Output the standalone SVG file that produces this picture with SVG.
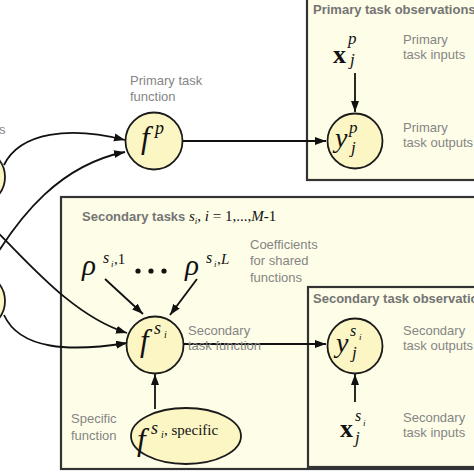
<svg xmlns="http://www.w3.org/2000/svg" width="474" height="474" viewBox="0 0 474 474">
<style>
.box{fill:#fefde8;stroke:#333;stroke-width:2.2}
.node{fill:#fbf6c4;stroke:#1a1a1a;stroke-width:1.8}
.lbl{font-family:"Liberation Sans",Arial,sans-serif;font-size:13px;fill:#858585}
.ttl{font-family:"Liberation Sans",Arial,sans-serif;font-size:13px;font-weight:bold;fill:#747474}
.m{font-family:"Liberation Serif","Times New Roman",serif;font-style:italic;fill:#111}
.mu{font-family:"Liberation Serif","Times New Roman",serif;fill:#111}
.c{fill:none;stroke:#111;stroke-width:1.8}
</style>
<defs>
<marker id="ah" markerUnits="userSpaceOnUse" markerWidth="12" markerHeight="9" refX="11" refY="4" orient="auto">
<path d="M0,0 L11,4 L0,8 z" fill="#111"/>
</marker>
</defs>
<rect width="474" height="474" fill="#ffffff"/>

<g id="primary-obs-box">
<rect class="box" x="307" y="-10" width="180" height="190"/>
<text class="ttl" x="313" y="14">Primary task observations</text>
</g>
<g id="secondary-tasks-box">
<rect class="box" x="61" y="197" width="430" height="272"/>
<text class="ttl" x="82" y="221">Secondary tasks <tspan class="m" font-weight="normal" font-size="15" fill="#777">s</tspan><tspan class="m" font-weight="normal" font-size="9" fill="#777" dy="3">i</tspan><tspan class="mu" font-weight="normal" font-size="15" fill="#777" dy="-3">, </tspan><tspan class="m" font-weight="normal" font-size="15" fill="#777">i</tspan><tspan class="mu" font-weight="normal" font-size="15" fill="#777"> = 1,...,</tspan><tspan class="m" font-weight="normal" font-size="15" fill="#777">M</tspan><tspan class="mu" font-weight="normal" font-size="15" fill="#777">-1</tspan></text>
</g>
<g id="secondary-obs-box">
<rect class="box" x="308" y="287" width="180" height="180"/>
<text class="ttl" x="313" y="303">Secondary task observations</text>
</g>

<g id="left-top-node">
<circle class="node" cx="-23" cy="177" r="28"/>
</g>
<g id="left-bottom-node">
<circle class="node" cx="-23" cy="301" r="28"/>
</g>
<text class="lbl" x="-1" y="134">s</text>

<g id="connectors">
<path class="c" d="M4,165 C20,132 70,126 125,140" marker-end="url(#ah)"/>
<path class="c" d="M-10,265 C20,215 60,165 125,152" marker-end="url(#ah)"/>
<path class="c" d="M-10,225 C25,258 70,315 127,333" marker-end="url(#ah)"/>
<path class="c" d="M4,315 C20,350 70,352 127,343" marker-end="url(#ah)"/>
<path class="c" d="M183,141 L326,141" marker-end="url(#ah)"/>
<path class="c" d="M355,73 L355,112" marker-end="url(#ah)"/>
<path class="c" d="M183,344 L326,344" marker-end="url(#ah)"/>
<path class="c" d="M355,402 L355,374" marker-end="url(#ah)"/>
<path class="c" d="M105,279 L143,314" marker-end="url(#ah)"/>
<path class="c" d="M197,279 L170,315" marker-end="url(#ah)"/>
<path class="c" d="M155,409 L155,374" marker-end="url(#ah)"/>
</g>

<g id="fp">
<circle class="node" cx="154" cy="141" r="28.5"/>
<text class="m" x="141" y="148" font-size="31">f</text>
<text class="m" x="155" y="134" font-size="18">p</text>
<text class="lbl" x="130" y="85">Primary task</text>
<text class="lbl" x="130" y="101">function</text>
</g>

<g id="xp">
<text class="mu" x="333" y="63" font-size="26" font-weight="bold">x</text>
<text class="m" x="348" y="44" font-size="17">p</text>
<text class="m" x="350" y="65" font-size="17">j</text>
<text class="lbl" x="403" y="44">Primary</text>
<text class="lbl" x="403" y="59">task inputs</text>
</g>

<g id="yp">
<circle class="node" cx="355" cy="141" r="27.5"/>
<text class="m" x="335" y="147" font-size="28">y</text>
<text class="m" x="349" y="133" font-size="17">p</text>
<text class="m" x="351" y="153" font-size="17">j</text>
<text class="lbl" x="403" y="132">Primary</text>
<text class="lbl" x="403" y="147">task outputs</text>
</g>

<g id="rho1">
<text class="m" x="82" y="275" font-size="29">ρ</text>
<text class="m" x="103" y="263" font-size="16">s</text>
<text class="m" x="111" y="267" font-size="9">i</text>
<text class="mu" x="114" y="264" font-size="15">,1</text>
</g>
<g id="dots">
<circle cx="138" cy="271" r="2.6" fill="#111"/>
<circle cx="151" cy="271" r="2.6" fill="#111"/>
<circle cx="164" cy="271" r="2.6" fill="#111"/>
</g>
<g id="rhoL">
<text class="m" x="185" y="275" font-size="29">ρ</text>
<text class="m" x="206" y="263" font-size="16">s</text>
<text class="m" x="214" y="267" font-size="9">i</text>
<text class="mu" x="217" y="264" font-size="15">,</text>
<text class="m" x="221" y="264" font-size="15">L</text>
</g>
<text class="lbl" x="250" y="249">Coefficients</text>
<text class="lbl" x="250" y="265">for shared</text>
<text class="lbl" x="250" y="282">functions</text>

<g id="fsi">
<circle class="node" cx="155" cy="345" r="28.5"/>
<text class="m" x="140" y="351" font-size="31">f</text>
<text class="m" x="154" y="334" font-size="18">s</text>
<text class="m" x="164" y="338" font-size="10">i</text>
<text class="lbl" x="188" y="335">Secondary</text>
<text class="lbl" x="188" y="350">task function</text>
</g>

<g id="fspec">
<ellipse class="node" cx="186" cy="436" rx="55" ry="28"/>
<text class="m" x="137" y="450" font-size="31">f</text>
<text class="m" x="151" y="434" font-size="18">s</text>
<text class="m" x="161" y="438" font-size="10">i</text>
<text class="mu" x="164" y="435" font-size="15">, specific</text>
<text class="lbl" x="71" y="423">Specific</text>
<text class="lbl" x="71" y="440">function</text>
</g>

<g id="ysi">
<circle class="node" cx="355" cy="346" r="27.5"/>
<text class="m" x="336" y="352" font-size="28">y</text>
<text class="m" x="350" y="336" font-size="16">s</text>
<text class="m" x="359" y="340" font-size="9">i</text>
<text class="m" x="352" y="358" font-size="17">j</text>
<text class="lbl" x="403" y="335">Secondary</text>
<text class="lbl" x="403" y="350">task outputs</text>
</g>

<g id="xsi">
<text class="mu" x="340" y="437" font-size="26" font-weight="bold">x</text>
<text class="m" x="355" y="421" font-size="16">s</text>
<text class="m" x="363" y="426" font-size="9">i</text>
<text class="m" x="355" y="443" font-size="17">j</text>
<text class="lbl" x="403" y="422">Secondary</text>
<text class="lbl" x="403" y="437">task inputs</text>
</g>
</svg>
